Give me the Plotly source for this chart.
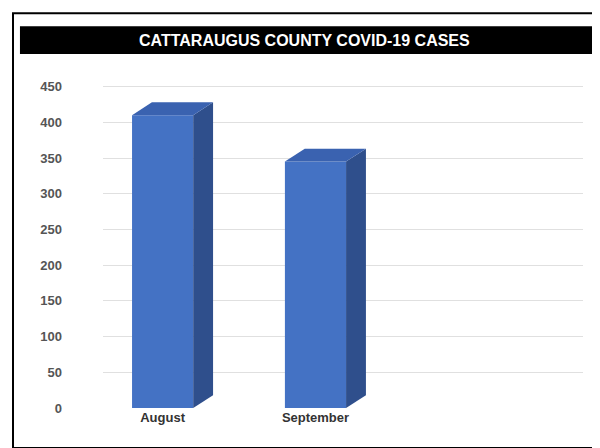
import plotly.graph_objects as go

categories = ["August", "September"]
values = [410, 345]
yticks = [0, 50, 100, 150, 200, 250, 300, 350, 400, 450]

xs = list(range(len(categories)))
w = 0.4
dx, dy = 0.13, 18

fig = go.Figure(go.Bar(x=xs, y=values, width=w, marker=dict(color="#4472c4", line=dict(width=0)), hoverinfo="skip"))
shapes = []
for x, v in zip(xs, values):
    l, r = x - w / 2, x + w / 2
    shapes.append(dict(type="path", xref="x", yref="y", path=f"M{r},0 L{r+dx},{dy} L{r+dx},{v+dy} L{r},{v} Z",
                       fillcolor="#2f4f8c", line=dict(width=0)))
    shapes.append(dict(type="path", xref="x", yref="y", path=f"M{l},{v} L{l+dx},{v+dy} L{r+dx},{v+dy} L{r},{v} Z",
                       fillcolor="#3a62b0", line=dict(width=0)))
shapes.append(dict(type="rect", xref="paper", yref="paper", x0=-0.1875, x1=1.035, y0=-0.123, y1=1.215,
                   line=dict(color="black", width=2), layer="below"))
shapes.append(dict(type="rect", xref="paper", yref="paper", x0=-0.173, x1=1.02, y0=1.089, y1=1.175,
                   fillcolor="black", line=dict(width=0)))
fig.update_layout(
    width=600, height=448, plot_bgcolor="white", paper_bgcolor="white",
    margin=dict(l=95, r=25, t=75, b=48), shapes=shapes, showlegend=False,
    annotations=[dict(text="<b>CATTARAUGUS COUNTY COVID-19 CASES</b>", xref="paper", yref="paper",
                      x=0.42, y=1.132, yanchor="middle", xanchor="center", showarrow=False,
                      font=dict(color="white", size=16, family="Arial"))],
    xaxis=dict(range=[-0.39, 2.75], tickvals=xs, ticktext=[f"<b>{c}</b>" for c in categories],
               showgrid=False, zeroline=False, tickfont=dict(size=13, color="#333", family="Arial")),
    yaxis=dict(range=[0, 455], tickvals=yticks, ticktext=[f"<b>{t}</b>" for t in yticks],
               gridcolor="#e0e0e0", zeroline=False, ticklabelstandoff=40,
               tickfont=dict(size=13, color="#555", family="Arial")),
)
fig.write_html("out.html")
